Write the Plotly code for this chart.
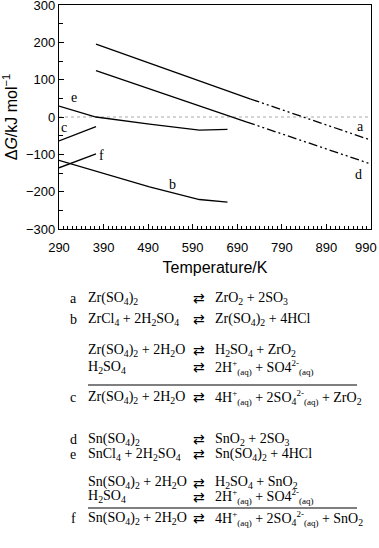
import plotly.graph_objects as go

# curve data (T in K, dG in kJ/mol)
a_T = [373, 720]
a_G = [195, 48]
a_T_ext = [720, 990]
a_G_ext = [48, -62]

d_T = [373, 710]
d_G = [124, -13]
d_T_ext = [710, 990]
d_G_ext = [-13, -126]

e_T = [290, 373, 493, 605, 668]
e_G = [29, 0, -19, -35, -33]

b_T = [290, 493, 605, 668]
b_G = [-116, -187, -221, -228]

c_T = [290, 373]
c_G = [-64, -26]

f_T = [290, 373]
f_G = [-136, -99]

zero_T = [290, 990]
zero_G = [0, 0]

x_ticks = [290, 390, 490, 590, 690, 790, 890, 990]

# curve labels: name, T, dG
curve_labels = [("a", 966, -26), ("d", 963, -155), ("e", 323, 52),
                ("c", 301, -29), ("f", 386, -104), ("b", 544, -182)]

AQ = "<sub><span style='font-size:9px'>(aq)</span></sub>"
SUP2 = "<sup><span style='font-size:9px'>2-</span></sup>"
SUPP = "<sup><span style='font-size:9px'>+</span></sup>"

# reaction table rows: letter, left side, right side, pixel row
reactions = [
    ("a", "Zr(SO<sub>4</sub>)<sub>2</sub>", "ZrO<sub>2</sub> + 2SO<sub>3</sub>", 298),
    ("b", "ZrCl<sub>4</sub> + 2H<sub>2</sub>SO<sub>4</sub>", "Zr(SO<sub>4</sub>)<sub>2</sub> + 4HCl", 319),
    ("", "Zr(SO<sub>4</sub>)<sub>2</sub> + 2H<sub>2</sub>O", "H<sub>2</sub>SO<sub>4</sub> + ZrO<sub>2</sub>", 350),
    ("", "H<sub>2</sub>SO<sub>4</sub>", "2H" + SUPP + AQ + " + SO4" + SUP2 + AQ, 367),
    ("c", "Zr(SO<sub>4</sub>)<sub>2</sub> + 2H<sub>2</sub>O",
     "4H" + SUPP + AQ + " + 2SO<sub>4</sub>" + SUP2 + AQ + " + ZrO<sub>2</sub>", 397),
    ("d", "Sn(SO<sub>4</sub>)<sub>2</sub>", "SnO<sub>2</sub> + 2SO<sub>3</sub>", 439),
    ("e", "SnCl<sub>4</sub> + 2H<sub>2</sub>SO<sub>4</sub>", "Sn(SO<sub>4</sub>)<sub>2</sub> + 4HCl", 454),
    ("", "Sn(SO<sub>4</sub>)<sub>2</sub> + 2H<sub>2</sub>O", "H<sub>2</sub>SO<sub>4</sub> + SnO<sub>2</sub>", 483),
    ("", "H<sub>2</sub>SO<sub>4</sub>", "2H" + SUPP + AQ + " + SO4" + SUP2 + AQ, 497),
    ("f", "Sn(SO<sub>4</sub>)<sub>2</sub> + 2H<sub>2</sub>O",
     "4H" + SUPP + AQ + " + 2SO<sub>4</sub>" + SUP2 + AQ + " + SnO<sub>2</sub>", 518),
]
rule_rows = [385, 508]

W, H = 379, 548
L, R, T, B = 59, 8, 5, 319
pw, ph = W - L - R, H - T - B


def px_x(x):
    return (x - L) / pw


def px_y(y):
    return (H - B - y) / ph


solid = dict(color="black", width=1.3)
dashdot = dict(color="black", width=1.3, dash="9px,3px,2px,3px,2px,3px")

fig = go.Figure()
fig.add_trace(go.Scatter(x=zero_T, y=zero_G, mode="lines",
                         line=dict(color="#aaaaaa", width=1.2, dash="dot")))
for xs, ys in [(a_T, a_G), (d_T, d_G), (e_T, e_G), (b_T, b_G), (c_T, c_G), (f_T, f_G)]:
    fig.add_trace(go.Scatter(x=xs, y=ys, mode="lines", line=solid))
for xs, ys in [(a_T_ext, a_G_ext), (d_T_ext, d_G_ext)]:
    fig.add_trace(go.Scatter(x=xs, y=ys, mode="lines", line=dashdot))

serif = "Liberation Serif, Times New Roman, serif"
for name, tx, gy in curve_labels:
    fig.add_annotation(x=tx, y=gy, text=name, showarrow=False,
                       font=dict(family=serif, size=14, color="black"))

# last x tick label sits flush with the right edge, so draw it inside the page
fig.add_annotation(x=1, y=0, xref="paper", yref="paper", text=str(x_ticks[-1]),
                   showarrow=False, xanchor="right", yanchor="middle",
                   xshift=8, yshift=-18, font=dict(size=13, color="black"))

for letter, left, right, row in reactions:
    yy = px_y(row)
    if letter:
        fig.add_annotation(x=px_x(73), y=yy, xref="paper", yref="paper", text=letter,
                           showarrow=False, xanchor="center", yanchor="middle",
                           font=dict(family=serif, size=14, color="black"))
    fig.add_annotation(x=px_x(86), y=yy, xref="paper", yref="paper", text=left,
                       showarrow=False, xanchor="left", yanchor="middle",
                       font=dict(family=serif, size=14, color="black"))
    fig.add_annotation(x=px_x(199), y=yy, xref="paper", yref="paper", text="⇄",
                       showarrow=False, xanchor="center", yanchor="middle",
                       font=dict(family="DejaVu Sans", size=14, color="black"))
    fig.add_annotation(x=px_x(213), y=yy, xref="paper", yref="paper", text=right,
                       showarrow=False, xanchor="left", yanchor="middle",
                       font=dict(family=serif, size=14, color="black"))

for row in rule_rows:
    fig.add_shape(type="line", xref="paper", yref="paper",
                  x0=px_x(88), x1=px_x(357), y0=px_y(row), y1=px_y(row),
                  line=dict(color="black", width=1.2))

fig.update_layout(
    width=W, height=H,
    margin=dict(l=L, r=R, t=T, b=B, autoexpand=False),
    paper_bgcolor="white",
    plot_bgcolor="white",
    showlegend=False,
    font=dict(family="Liberation Sans, Arial, sans-serif", size=13, color="black"),
)
fig.update_xaxes(
    range=[290, 990], tickvals=x_ticks,
    ticktext=[str(v) for v in x_ticks[:-1]] + [""],
    ticks="inside", ticklen=5, tickcolor="black", ticklabeloverflow="allow",
    ticklabelstandoff=6, automargin=False,
    minor=dict(dtick=10, tick0=290, ticks="inside", ticklen=3, tickcolor="black"),
    showline=True, linecolor="black", linewidth=1.2, mirror=True,
    showgrid=False, zeroline=False,
    title=dict(text="Temperature/K", standoff=8),
)
fig.update_yaxes(
    range=[-300, 300], dtick=100,
    ticks="inside", ticklen=5, tickcolor="black", ticklabeloverflow="allow",
    automargin=False,
    minor=dict(dtick=50, ticks="inside", ticklen=4, tickcolor="black"),
    showline=True, linecolor="black", linewidth=1.2, mirror=True,
    showgrid=False, zeroline=False,
    title=dict(text="Δ<i>G</i>/kJ mol<sup>−1</sup>", standoff=4),
)

fig.write_html("out.html", config={"displayModeBar": False},
               post_script="document.body.style.margin='0';")
